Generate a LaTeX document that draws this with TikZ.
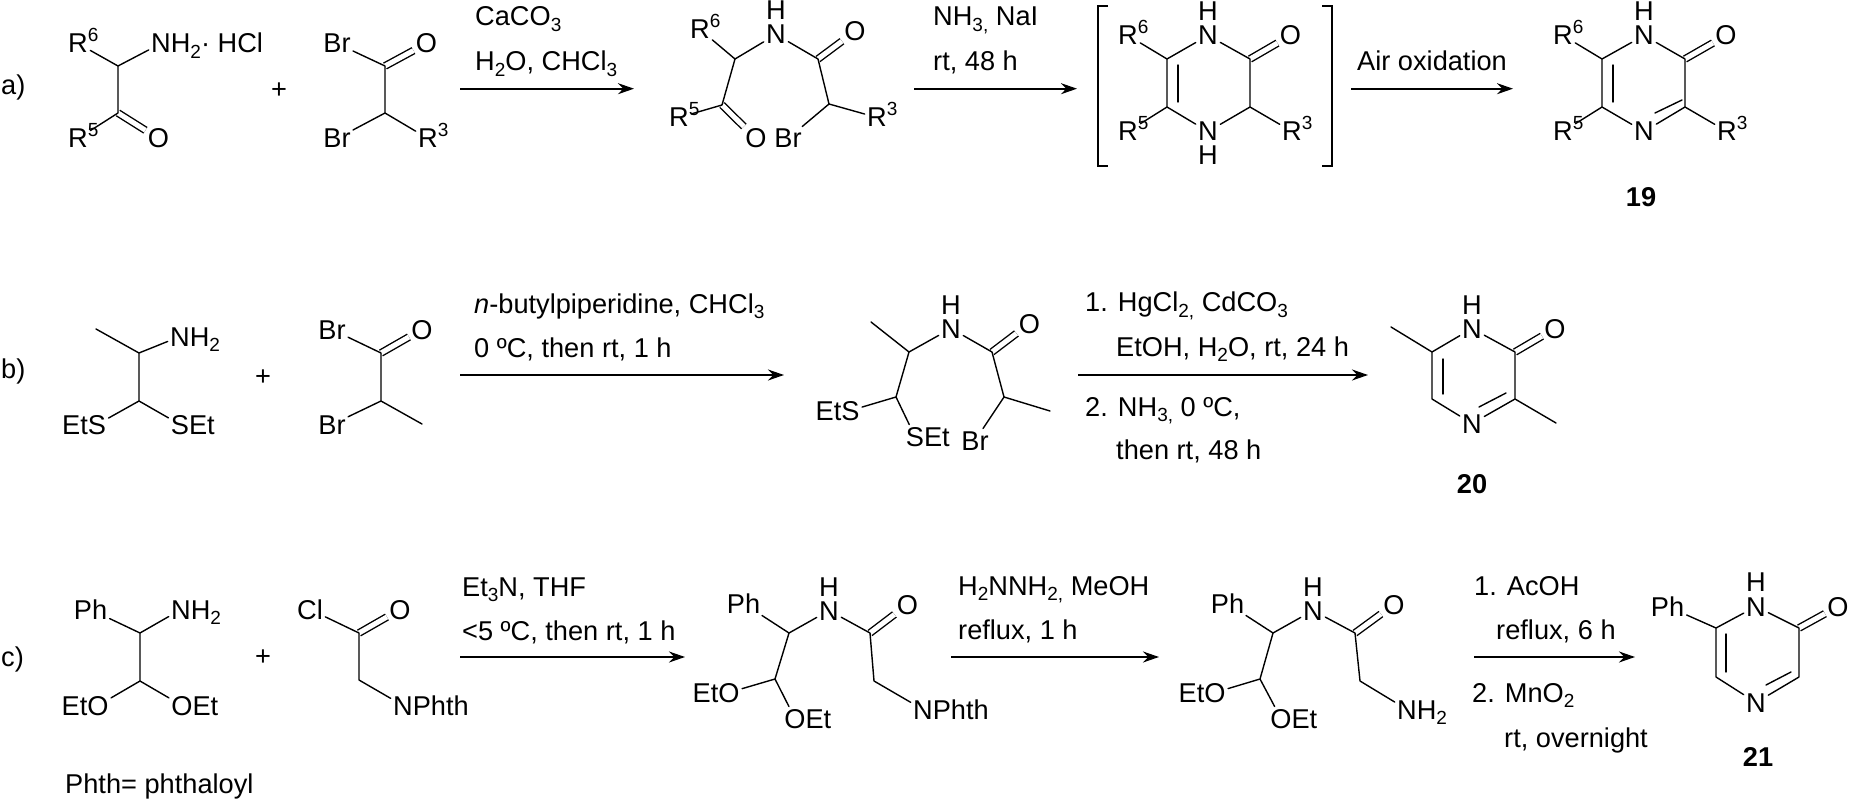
\documentclass[tikz,border=0pt]{standalone}
\usepackage{fontspec}
\setmainfont{Liberation Sans}
\usetikzlibrary{arrows.meta,calc}
\newcommand\fs{\fontsize{27.2}{30}\selectfont}
\newcommand\sbs[1]{\raisebox{-0.22em}{\fontsize{19}{20}\selectfont #1}}
\newcommand\sps[1]{\raisebox{0.42em}{\fontsize{19}{20}\selectfont #1}}
\newcommand\ra[1]{\rlap{\smash{#1}}}
\newcommand\la[1]{\llap{\smash{#1}}}
\newcommand\V[3]{\coordinate (#1) at (#2,#3);}
\newcommand\A[4]{\node[atom] (#1) at (#2,#3) {#4};}
\newcommand\HA[3]{\node[hatom] (#1) at (#2,#3) {H};}
\newcommand\T[4]{\node[reag] (#1) at (#2,#3) {#4};}
\tikzset{
 atom/.style={font=\fs,anchor=base,inner sep=2.5pt,outer sep=0pt,text height=19pt,text depth=0pt},
 hatom/.style={font=\fs,anchor=base,inner sep=0pt,outer sep=0pt,text height=19pt,text depth=0pt},
 reag/.style={font=\fs,anchor=base west,inner sep=0pt},
 num/.style={font=\fs\bfseries,anchor=base,inner sep=0pt},
 plus/.style={font=\fs,inner sep=0pt},
 bond/.style={line width=1.4pt,line cap=round,line join=round},
 dbond/.style={line width=1.4pt,double,double distance=5pt},
 rxn/.style={line width=1.8pt,-{Stealth[length=16pt,width=11pt]}},
 brk/.style={line width=1.4pt}
}
\begin{document}
\begin{tikzpicture}[x=1pt,y=-1pt]
\useasboundingbox (0,0) rectangle (1852,802);
% ---------- row a
\T{la}{1}{95}{a)}
\V{a1c1}{118}{66}\V{a1c2}{118}{113}
\A{a1r6}{78}{53}{R\ra{\sps{6}}}
\A{a1nh}{161}{53}{N\ra{H\sbs{2}· HCl}}
\A{a1r5}{78}{148}{R\ra{\sps{5}}}
\A{a1o}{158.5}{148}{O}
\draw[dbond] (a1c2)--(a1o);
\draw[bond] (a1c1)--(a1r6) (a1c1)--(a1nh) (a1c1)--(a1c2) (a1c2)--(a1r5);
\node[plus] (pa) at (279,91) {+};
\V{a2c1}{385}{66}\V{a2c2}{385}{113}
\A{a2br}{337}{53}{Br}
\A{a2o}{426.5}{53}{O}
\A{a2bb}{337}{148}{Br}
\A{a2r3}{428}{148}{R\ra{\sps{3}}}
\draw[dbond] (a2c1)--(a2o);
\draw[bond] (a2c1)--(a2br) (a2c1)--(a2c2) (a2c2)--(a2bb) (a2c2)--(a2r3);
\T{ta1}{475}{26}{CaCO\sbs{3}}
\T{ta2}{475}{70.5}{H\sbs{2}O, CHCl\sbs{3}}
\V{aa1s}{460}{88.7}\V{aa1e}{634}{88.7}
\draw[rxn] (aa1s)--(aa1e);
\V{a3c1}{735}{59}\V{a3c2}{722}{105}\V{a3c3}{818}{59}\V{a3c4}{829}{104}
\HA{a3h}{776}{20}
\A{a3n}{776}{44}{N}
\A{a3o}{855}{41}{O}
\A{a3r6}{700}{39}{R\ra{\sps{6}}}
\A{a3r5}{679}{127}{R\ra{\sps{5}}}
\A{a3o2}{756}{148}{O}
\A{a3br}{788}{148}{Br}
\A{a3r3}{877}{127}{R\ra{\sps{3}}}
\draw[dbond] (a3c3)--(a3o);
\draw[dbond] (a3c2)--(a3o2);
\draw[bond] (a3c1)--(a3r6) (a3c1)--(a3n) (a3c3)--(a3n) (a3c1)--(a3c2) (a3c3)--(a3c4) (a3c2)--(a3r5) (a3c4)--(a3r3) (a3c4)--(a3br);
\T{tb1}{933}{26}{NH\sbs{3,} NaI}
\T{tb2}{933}{70.5}{rt, 48 h}
\V{aa2s}{914}{88.7}\V{aa2e}{1077}{88.7}
\draw[rxn] (aa2s)--(aa2e);
\V{bl1}{1108}{6}\V{bl2}{1098}{6}\V{bl3}{1098}{166}\V{bl4}{1108}{166}
\V{br1}{1322}{6}\V{br2}{1332}{6}\V{br3}{1332}{166}\V{br4}{1322}{166}
\draw[brk] (bl1)--(bl2)--(bl3)--(bl4);
\draw[brk] (br1)--(br2)--(br3)--(br4);
\V{a4c1}{1167}{59}\V{a4c2}{1167}{107}\V{a4c3}{1250}{59}\V{a4c4}{1250}{107}
\HA{a4h}{1208}{21}
\A{a4n}{1208}{45}{N}
\A{a4nb}{1208}{141}{N}
\HA{a4hb}{1208}{165}
\A{a4o}{1290.5}{45}{O}
\A{a4r6}{1128}{45}{R\ra{\sps{6}}}
\A{a4r5}{1128}{141}{R\ra{\sps{5}}}
\A{a4r3}{1292}{141}{R\ra{\sps{3}}}
\draw[dbond] (a4c3)--(a4o);
\draw[bond] (a4c1)--(a4r6) (a4c1)--(a4n) (a4c3)--(a4n) (a4c1)--(a4c2) (a4c3)--(a4c4) (a4c2)--(a4r5) (a4c2)--(a4nb) (a4c4)--(a4nb) (a4c4)--(a4r3);
\draw[bond] ($(a4c1)+(11,6)$)--($(a4c2)+(11,-5)$);
\T{tc1}{1357}{70.5}{Air oxidation}
\V{aa3s}{1351}{88.7}\V{aa3e}{1513}{88.7}
\draw[rxn] (aa3s)--(aa3e);
\V{a5c1}{1602}{59}\V{a5c2}{1602}{107}\V{a5c3}{1685}{59}\V{a5c4}{1685}{107}
\HA{a5h}{1644}{21}
\A{a5n}{1644}{45}{N}
\A{a5nb}{1644}{141}{N}
\A{a5o}{1726}{45}{O}
\A{a5r6}{1563}{45}{R\ra{\sps{6}}}
\A{a5r5}{1563}{141}{R\ra{\sps{5}}}
\A{a5r3}{1727}{141}{R\ra{\sps{3}}}
\draw[dbond] (a5c3)--(a5o);
\draw[bond] (a5c1)--(a5r6) (a5c1)--(a5n) (a5c3)--(a5n) (a5c1)--(a5c2) (a5c3)--(a5c4) (a5c2)--(a5r5) (a5c2)--(a5nb) (a5c4)--(a5nb) (a5c4)--(a5r3);
\draw[bond] ($(a5c1)+(11,6)$)--($(a5c2)+(11,-5)$);
\draw[bond] ($(a5c4)+(-3,-7)$)--($(a5c4)+(-30,6)$);
\node[num] (n19) at (1641,207) {19};
% ---------- row b
\T{lb}{1}{378}{b)}
\V{b1c1}{139}{353}\V{b1c2}{139}{401}\V{b1m}{96}{329}
\A{b1nh}{180}{346}{N\ra{H\sbs{2}}}
\A{b1s1}{97}{434}{\la{Et}S}
\A{b1s2}{180}{434}{S\ra{Et}}
\draw[bond] (b1c1)--(b1m) (b1c1)--(b1nh) (b1c1)--(b1c2) (b1c2)--(b1s1) (b1c2)--(b1s2);
\node[plus] (pb) at (263,378) {+};
\V{b2c1}{381}{353}\V{b2c2}{381}{401}\V{b2m}{422}{424}
\A{b2br}{332}{339}{Br}
\A{b2o}{422}{339}{O}
\A{b2bb}{332}{434}{Br}
\draw[dbond] (b2c1)--(b2o);
\draw[bond] (b2c1)--(b2br) (b2c1)--(b2c2) (b2c2)--(b2bb) (b2c2)--(b2m);
\T{td1}{474}{313}{\textit{n}-butylpiperidine, CHCl\sbs{3}}
\T{td2}{474}{357}{0 ºC, then rt, 1 h}
\V{ab1s}{460}{375}\V{ab1e}{784}{375}
\draw[rxn] (ab1s)--(ab1e);
\V{b3c1}{909}{352}\V{b3c2}{896}{397}\V{b3c3}{992}{352}\V{b3c4}{1004}{397}\V{b3m1}{871}{322}\V{b3m2}{1050}{411}
\HA{b3h}{951}{314}
\A{b3n}{951}{338}{N}
\A{b3o}{1029.5}{333}{O}
\A{b3s1}{850.5}{420}{\la{Et}S}
\A{b3s2}{915}{446}{S\ra{Et}}
\A{b3br}{975}{450}{Br}
\draw[dbond] (b3c3)--(b3o);
\draw[bond] (b3c1)--(b3m1) (b3c1)--(b3n) (b3c3)--(b3n) (b3c1)--(b3c2) (b3c3)--(b3c4) (b3c2)--(b3s1) (b3c2)--(b3s2) (b3c4)--(b3br) (b3c4)--(b3m2);
\T{te1}{1085}{312}{1. HgCl\sbs{2,} CdCO\sbs{3}}
\T{te2}{1116}{356}{EtOH, H\sbs{2}O, rt, 24 h}
\T{te3}{1085}{416}{2. NH\sbs{3,} 0 ºC,}
\T{te4}{1116}{459}{then rt, 48 h}
\V{ab2s}{1078}{375}\V{ab2e}{1368}{375}
\draw[rxn] (ab2s)--(ab2e);
\V{b4c1}{1432}{352}\V{b4c2}{1432}{399}\V{b4c3}{1515}{352}\V{b4c4}{1515}{399}\V{b4m1}{1391}{327}\V{b4m2}{1556}{423}
\HA{b4h}{1472}{314}
\A{b4n}{1472}{338}{N}
\A{b4nb}{1472}{433}{N}
\A{b4o}{1555}{338}{O}
\draw[dbond] (b4c3)--(b4o);
\draw[bond] (b4c1)--(b4m1) (b4c1)--(b4n) (b4c3)--(b4n) (b4c1)--(b4c2) (b4c3)--(b4c4) (b4c2)--(b4nb) (b4c4)--(b4nb) (b4c4)--(b4m2);
\draw[bond] ($(b4c1)+(11,7)$)--($(b4c2)+(11,-5)$);
\draw[bond] ($(b4c4)+(-9,-6)$)--($(b4c4)+(-36,8)$);
\node[num] (n20) at (1472,493) {20};
% ---------- row c
\T{lc}{1}{666}{c)}
\V{c1c1}{140}{633}\V{c1c2}{140}{681}
\A{c1ph}{90.5}{619}{Ph}
\A{c1nh}{181}{619}{N\ra{H\sbs{2}}}
\A{c1o1}{98}{715}{\la{Et}O}
\A{c1o2}{182}{715}{O\ra{Et}}
\draw[bond] (c1c1)--(c1ph) (c1c1)--(c1nh) (c1c1)--(c1c2) (c1c2)--(c1o1) (c1c2)--(c1o2);
\node[plus] (pc) at (263,658) {+};
\V{c2c1}{359}{633}\V{c2c2}{359}{680}
\A{c2cl}{310}{619}{Cl}
\A{c2o}{400}{619}{O}
\A{c2n}{403}{715}{N\ra{Phth}}
\draw[dbond] (c2c1)--(c2o);
\draw[bond] (c2c1)--(c2cl) (c2c1)--(c2c2) (c2c2)--(c2n);
\T{tf1}{462}{596}{Et\sbs{3}N, THF}
\T{tf2}{462}{640}{<5 ºC, then rt, 1 h}
\V{ac1s}{460}{657}\V{ac1e}{685}{657}
\draw[rxn] (ac1s)--(ac1e);
\V{c3c1}{789}{633}\V{c3c2}{775}{679}\V{c3c3}{870}{633}\V{c3c4}{874}{681}
\HA{c3h}{829}{596}
\A{c3n}{829}{620}{N}
\A{c3o}{907.5}{614}{O}
\A{c3ph}{743.5}{613}{Ph}
\A{c3o1}{729}{702}{\la{Et}O}
\A{c3o2}{795}{728}{O\ra{Et}}
\A{c3np}{923}{719}{N\ra{Phth}}
\draw[dbond] (c3c3)--(c3o);
\draw[bond] (c3c1)--(c3ph) (c3c1)--(c3n) (c3c3)--(c3n) (c3c1)--(c3c2) (c3c3)--(c3c4) (c3c2)--(c3o1) (c3c2)--(c3o2) (c3c4)--(c3np);
\T{tg1}{958}{595}{H\sbs{2}NNH\sbs{2,} MeOH}
\T{tg2}{958}{639}{reflux, 1 h}
\V{ac2s}{951}{657}\V{ac2e}{1159}{657}
\draw[rxn] (ac2s)--(ac2e);
\V{c4c1}{1273}{633}\V{c4c2}{1260}{679}\V{c4c3}{1355}{633}\V{c4c4}{1360}{681}
\HA{c4h}{1313}{596}
\A{c4n}{1313}{620}{N}
\A{c4o}{1394}{614}{O}
\A{c4ph}{1227.5}{613}{Ph}
\A{c4o1}{1215}{702}{\la{Et}O}
\A{c4o2}{1281}{728}{O\ra{Et}}
\A{c4nh}{1407}{719}{N\ra{H\sbs{2}}}
\draw[dbond] (c4c3)--(c4o);
\draw[bond] (c4c1)--(c4ph) (c4c1)--(c4n) (c4c3)--(c4n) (c4c1)--(c4c2) (c4c3)--(c4c4) (c4c2)--(c4o1) (c4c2)--(c4o2) (c4c4)--(c4nh);
\T{th1}{1474}{595}{1. AcOH}
\T{th2}{1496}{639}{reflux, 6 h}
\T{th3}{1472}{702}{2. MnO\sbs{2}}
\T{th4}{1504}{747}{rt, overnight}
\V{ac3s}{1474}{657}\V{ac3e}{1635}{657}
\draw[rxn] (ac3s)--(ac3e);
\V{c5c1}{1716}{628}\V{c5c2}{1716}{677}\V{c5c3}{1799}{628}\V{c5c4}{1799}{677}
\HA{c5h}{1756}{591}
\A{c5n}{1756}{616}{N}
\A{c5nb}{1756}{712}{N}
\A{c5o}{1838}{616}{O}
\A{c5ph}{1667.5}{616}{Ph}
\draw[dbond] (c5c3)--(c5o);
\draw[bond] (c5c1)--(c5ph) (c5c1)--(c5n) (c5c3)--(c5n) (c5c1)--(c5c2) (c5c3)--(c5c4) (c5c2)--(c5nb) (c5c4)--(c5nb);
\draw[bond] ($(c5c1)+(10,6)$)--($(c5c2)+(10,-5)$);
\draw[bond] ($(c5c4)+(-8,-5)$)--($(c5c4)+(-33,8)$);
\node[num] (n21) at (1758,766) {21};
\T{tphth}{65}{793}{Phth= phthaloyl}
\end{tikzpicture}
\end{document}
